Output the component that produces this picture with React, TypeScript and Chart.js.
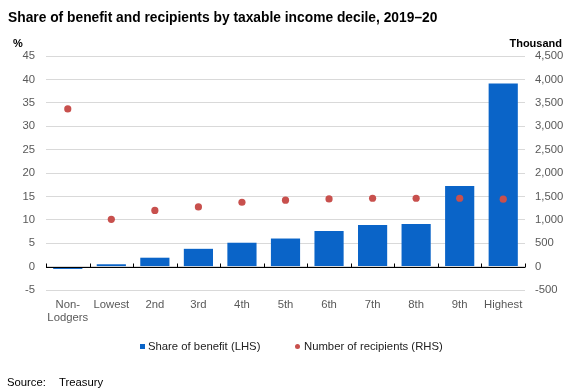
import React, { useEffect, useRef } from 'react';
import { Chart, registerables } from 'chart.js';

Chart.register(...registerables);

const titleText = 'Share of benefit and recipients by taxable income decile, 2019–20';
const categories: (string | string[])[] = [['Non-', 'Lodgers'], 'Lowest', '2nd', '3rd', '4th', '5th', '6th', '7th', '8th', '9th', 'Highest'];
const shareOfBenefit = [-0.5, 0.5, 1.9, 3.8, 5.1, 6.0, 7.6, 8.9, 9.1, 17.2, 39.1];
const recipients = [3370, 1010, 1200, 1275, 1375, 1420, 1445, 1460, 1460, 1460, 1440];
const leftAxis = { min: -5, max: 45, step: 5, unit: '%' };
const rightAxis = { min: -500, max: 4500, step: 500, unit: 'Thousand' };
const seriesNames = ['Share of benefit (LHS)', 'Number of recipients (RHS)'];
const sourceLabel = 'Source:';
const sourceText = 'Treasury';

const BLUE = '#0A64C8';
const RED = '#C8504D';
const FONT = '"Liberation Sans", Arial, sans-serif';
const TICK_COLOR = '#595959';

const zeroLinePlugin = {
  id: 'zeroLine',
  afterDatasetsDraw(chart: any) {
    const { ctx, chartArea, scales } = chart;
    const y = Math.round(scales.y.getPixelForValue(0)) + 0.5;
    const n = chart.data.labels.length;
    ctx.save();
    ctx.strokeStyle = '#000';
    ctx.lineWidth = 1;
    ctx.beginPath();
    ctx.moveTo(chartArea.left, y);
    ctx.lineTo(chartArea.right, y);
    for (let i = 0; i <= n; i++) {
      const x = Math.round(chartArea.left + ((chartArea.right - chartArea.left) * i) / n) + 0.5;
      ctx.moveTo(x, y);
      ctx.lineTo(x, y - 4);
    }
    ctx.stroke();
    ctx.restore();
  },
};

export default function App() {
  const ref = useRef<HTMLCanvasElement | null>(null);

  useEffect(() => {
    if (!ref.current) return;
    const chart = new Chart(ref.current, {
      type: 'bar',
      data: {
        labels: categories as any,
        datasets: [
          {
            type: 'line',
            label: seriesNames[1],
            data: recipients,
            yAxisID: 'y1',
            showLine: false,
            pointRadius: 3.6,
            pointBackgroundColor: RED,
            pointBorderWidth: 0,
            borderColor: RED,
            backgroundColor: RED,
            order: 0,
          } as any,
          {
            type: 'bar',
            label: seriesNames[0],
            data: shareOfBenefit,
            yAxisID: 'y',
            backgroundColor: BLUE,
            barPercentage: 0.67,
            categoryPercentage: 1,
            order: 1,
          },
        ],
      },
      options: {
        responsive: false,
        animation: false,
        events: [],
        layout: { padding: { top: 56, bottom: 59, left: 0, right: 0 } },
        plugins: {
          legend: { display: false },
          title: { display: false },
          tooltip: { enabled: false },
        },
        scales: {
          x: {
            offset: true,
            grid: { display: false, drawTicks: false },
            border: { display: false },
            ticks: { font: { family: FONT, size: 11.3 }, color: TICK_COLOR, padding: 8, maxRotation: 0, autoSkip: false },
            afterFit: (s: any) => { s.height = 40; },
          },
          y: {
            position: 'left',
            min: leftAxis.min,
            max: leftAxis.max,
            grid: { color: '#D9D9D9', drawTicks: false, lineWidth: 1 },
            border: { display: false },
            ticks: { stepSize: leftAxis.step, font: { family: FONT, size: 11.3 }, color: TICK_COLOR, padding: 11 },
            afterFit: (s: any) => { s.width = 46; },
          },
          y1: {
            position: 'right',
            min: rightAxis.min,
            max: rightAxis.max,
            grid: { display: false, drawTicks: false },
            border: { display: false },
            ticks: { stepSize: rightAxis.step, font: { family: FONT, size: 11.3 }, color: TICK_COLOR, padding: 10 },
            afterFit: (s: any) => { s.width = 59; },
          },
        },
      },
      plugins: [zeroLinePlugin],
    });
    return () => chart.destroy();
  }, []);

  const abs = (o: any) => ({ position: 'absolute', whiteSpace: 'nowrap', fontFamily: FONT, ...o });

  return (
    <div style={{ position: 'fixed', left: 0, top: 0, width: 584, height: 389, background: '#fff', overflow: 'hidden' }}>
      <canvas ref={ref} width={584} height={389} style={{ position: 'absolute', left: 0, top: 0, width: 584, height: 389 }} />
      <div style={abs({ left: 8, top: 10, fontSize: 13.8, fontWeight: 'bold', lineHeight: '16px', color: '#000' })}>{titleText}</div>
      <div style={abs({ left: 13, top: 36, fontSize: 11, fontWeight: 'bold', lineHeight: '14px', color: '#000' })}>{leftAxis.unit}</div>
      <div style={abs({ right: 584 - 562, top: 36, fontSize: 11, fontWeight: 'bold', lineHeight: '14px', color: '#000' })}>{rightAxis.unit}</div>
      <div style={abs({ left: 140, top: 344, width: 5, height: 5, background: BLUE })} />
      <div style={abs({ left: 148, top: 339, fontSize: 11.3, lineHeight: '14px', color: '#222' })}>{seriesNames[0]}</div>
      <div style={abs({ left: 295, top: 344, width: 5, height: 5, borderRadius: '50%', background: RED })} />
      <div style={abs({ left: 304, top: 339, fontSize: 11.3, lineHeight: '14px', color: '#222' })}>{seriesNames[1]}</div>
      <div style={abs({ left: 7, top: 375, fontSize: 11.3, lineHeight: '14px', color: '#000' })}>{sourceLabel}</div>
      <div style={abs({ left: 59, top: 375, fontSize: 11.3, lineHeight: '14px', color: '#000' })}>{sourceText}</div>
    </div>
  );
}
